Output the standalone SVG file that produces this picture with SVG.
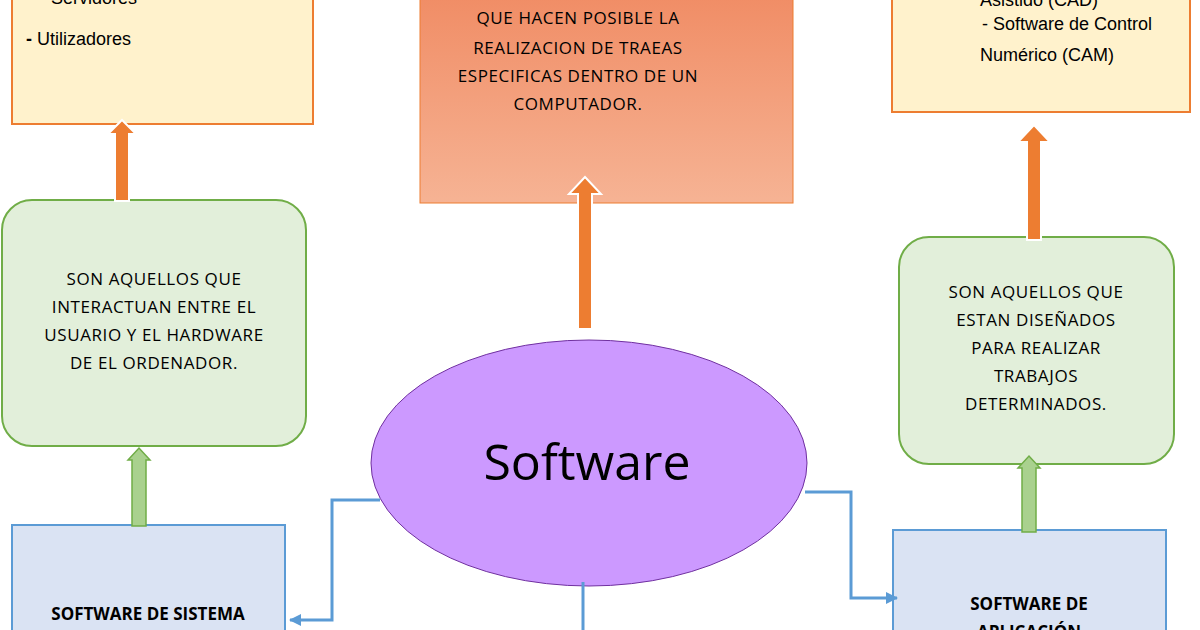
<svg xmlns="http://www.w3.org/2000/svg" width="1200" height="630" viewBox="0 0 1200 630">
<defs>
<linearGradient id="og" x1="0" y1="0" x2="0" y2="1"><stop offset="0" stop-color="#f08a62"/><stop offset="1" stop-color="#f6b394"/></linearGradient>
<marker id="bb" markerWidth="12" markerHeight="12" refX="11" refY="6" orient="auto" markerUnits="userSpaceOnUse" viewBox="0 0 12 12"><path d="M0,0 L12,6 L0,12 Z" fill="#5b9bd5"/></marker>
</defs>
<style>
.t{font-family:"Liberation Sans",Arial,sans-serif;font-size:18px;fill:#000}
.c{font-family:"Open Sans","DejaVu Sans",sans-serif;font-size:17px;fill:#000;text-anchor:middle;letter-spacing:0.6px}
.b{font-family:"Open Sans","DejaVu Sans",sans-serif;font-size:17px;font-weight:bold;fill:#000;text-anchor:middle}
.y{fill:#fff2cc;stroke:#ed7d31;stroke-width:2}
.g{fill:#e2efda;stroke:#70ad47;stroke-width:2}
.bl{fill:#dae3f3;stroke:#5b9bd5;stroke-width:2}
.oa{fill:#ed7d31;stroke:#fff;stroke-width:2}
.ga{fill:#a9d18e;stroke:#70ad47;stroke-width:1.5}
.cn{fill:none;stroke:#5b9bd5;stroke-width:3}
</style>
<rect width="1200" height="630" fill="#fff"/>
<g id="n-servidores"><rect class="y" x="12" y="-20" width="301" height="144"/>
<text class="t" x="40" y="4">- Servidores</text><text class="t" x="26" y="45"><tspan font-weight="bold">-</tspan> Utilizadores</text></g>
<g id="n-definicion"><rect x="420" y="-20" width="373" height="223" fill="url(#og)" stroke="#ed7d31" stroke-width="1"/>
<text class="c" x="578" y="24">QUE HACEN POSIBLE LA</text><text class="c" x="578" y="54">REALIZACION DE TRAEAS</text><text class="c" x="578" y="82">ESPECIFICAS DENTRO DE UN</text><text class="c" x="578" y="110">COMPUTADOR.</text></g>
<g id="n-cad"><rect class="y" x="892" y="-20" width="298" height="132"/>
<text class="t" x="980" y="6">Asistido (CAD)</text><text class="t" x="982" y="30">- Software de Control</text><text class="t" x="980" y="61">Numérico (CAM)</text></g>
<g id="n-sis-desc"><rect class="g" x="2" y="200" width="304" height="246" rx="30"/>
<text class="c" x="154" y="285">SON AQUELLOS QUE</text><text class="c" x="154" y="313">INTERACTUAN ENTRE EL</text><text class="c" x="154" y="341">USUARIO Y EL HARDWARE</text><text class="c" x="154" y="369">DE EL ORDENADOR.</text></g>
<g id="n-app-desc"><rect class="g" x="899" y="237" width="275" height="227" rx="30"/>
<text class="c" x="1036" y="298">SON AQUELLOS QUE</text><text class="c" x="1036" y="326">ESTAN DISEÑADOS</text><text class="c" x="1036" y="354">PARA REALIZAR</text><text class="c" x="1036" y="382">TRABAJOS</text><text class="c" x="1036" y="410">DETERMINADOS.</text></g>
<g id="n-software"><ellipse cx="589" cy="463" rx="218" ry="123" fill="#cc99ff" stroke="#7030a0" stroke-width="1"/>
<text x="587" y="480" text-anchor="middle" font-family="'Open Sans','DejaVu Sans',sans-serif" font-size="50">Software</text></g>
<g id="n-sistema"><rect class="bl" x="12" y="525" width="273" height="120"/><text class="b" x="148" y="620">SOFTWARE DE SISTEMA</text></g>
<g id="n-aplicacion"><rect class="bl" x="893" y="530" width="273" height="120"/><text class="b" x="1029" y="610">SOFTWARE DE</text><text class="b" x="1029" y="638">APLICACIÓN</text></g>
<g id="connectors">
<path class="oa" d="M115,201 L115,134 L108,134 L122,120 L136,134 L129,134 L129,201 Z"/>
<path class="oa" d="M578,329 L578,194 L569,194 L585,177 L601,194 L592,194 L592,329 Z"/>
<path class="oa" d="M1027,240 L1027,142 L1018,142 L1034,125 L1050,142 L1041,142 L1041,240 Z"/>
<path class="ga" d="M132,526 L132,460 L128,460 L139,448 L150,460 L146,460 L146,526 Z"/>
<path class="ga" d="M1022,532 L1022,468 L1018,468 L1029,456 L1040,468 L1036,468 L1036,532 Z"/>
<path class="cn" d="M380,500 L332,500 L332,620 L290,620" marker-end="url(#bb)"/>
<path class="cn" d="M805,492 L851,492 L851,598 L897,598" marker-end="url(#bb)"/>
<path class="cn" d="M583,582 L583,630"/>
</g>
</svg>
